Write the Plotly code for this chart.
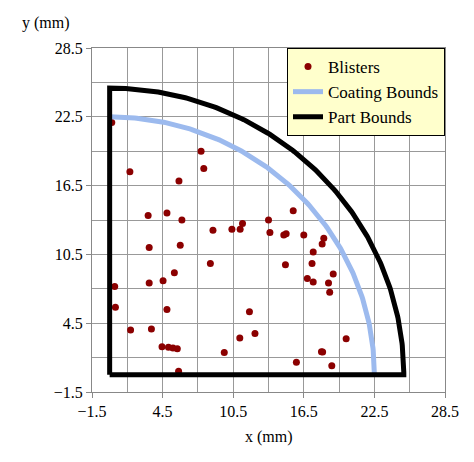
import numpy as np
import plotly.graph_objects as go

# blister locations (mm)
blister_x = [0.18, 1.72, 3.27, 4.87, 5.89, 6.14, 7.77, 8.0, 3.36, 6.0, 8.78, 8.56,
             10.39, 11.09, 11.29, 13.5, 13.62, 14.8, 15.0, 15.6, 16.5, 14.94, 18.2,
             18.06, 17.3, 17.2, 19.0, 16.8, 17.3, 18.6, 18.7, 5.5, 3.36, 4.54, 0.43,
             0.49, 4.87, 1.78, 3.55, 4.45, 5.0, 5.38, 5.75, 5.86, 9.74, 11.06, 11.88,
             12.35, 15.87, 18.0, 18.1, 18.88, 20.1]
blister_y = [22.0, 17.7, 13.9, 14.1, 16.9, 13.5, 19.5, 18.0, 11.1, 11.3, 12.6, 9.7,
             12.7, 12.7, 13.2, 13.5, 12.4, 12.2, 12.3, 14.3, 12.2, 9.6, 11.9,
             11.4, 10.7, 9.7, 8.8, 8.4, 8.1, 8.0, 7.2, 8.9, 8.0, 8.2, 7.7,
             5.9, 5.7, 3.9, 4.0, 2.45, 2.4, 2.33, 2.27, 0.3, 1.95, 3.2, 5.5,
             3.6, 1.1, 2.0, 1.98, 0.8, 3.15]

coating_r = 22.5
part_r = 25.0
tick_vals = [-1.5, 4.5, 10.5, 16.5, 22.5, 28.5]

theta = np.linspace(0, np.pi / 2, 200)
coat_x = coating_r * np.cos(theta)
coat_y = coating_r * np.sin(theta)
part_x = np.concatenate([[0], part_r * np.cos(theta), [0]])
part_y = np.concatenate([[0], part_r * np.sin(theta), [0]])

fig = go.Figure()
fig.add_trace(go.Scatter(x=blister_x, y=blister_y, mode='markers', name='Blisters',
                         marker=dict(color='#8B0000', size=7)))
fig.add_trace(go.Scatter(x=coat_x, y=coat_y, mode='lines', name='Coating Bounds',
                         line=dict(color='#9CBAEE', width=5)))
fig.add_trace(go.Scatter(x=part_x, y=part_y, mode='lines', name='Part Bounds',
                         line=dict(color='black', width=5)))

axis_style = dict(range=[-1.5, 28.5], tickvals=tick_vals, automargin=False,
                  showgrid=True, gridcolor='#999999', gridwidth=1,
                  zeroline=False, showline=True, linecolor='#888888', mirror=True,
                  ticks='outside', tickcolor='#888888', ticklen=5,
                  tickfont=dict(size=16, color='black'))
fig.update_xaxes(**axis_style)
fig.update_yaxes(**axis_style)
# minor grid every 3 mm
fig.update_xaxes(minor=dict(tick0=-1.5, dtick=3, showgrid=True, gridcolor='#999999'))
fig.update_yaxes(minor=dict(tick0=-1.5, dtick=3, showgrid=True, gridcolor='#999999'))

fig.update_layout(
    width=474, height=462,
    margin=dict(l=84, r=37, t=40, b=78),
    plot_bgcolor='white', paper_bgcolor='white',
    font=dict(family='Liberation Serif', size=16, color='black'),
    legend=dict(x=1, y=1, xanchor='right', yanchor='top', bgcolor='#FFFFCC',
                bordercolor='black', borderwidth=1, font=dict(size=17),
                itemwidth=30, tracegroupgap=0),
    showlegend=True,
    annotations=[
        dict(text='y (mm)', x=-0.13, y=1.04, xref='paper', yref='paper',
             xanchor='center', yanchor='bottom', showarrow=False, font=dict(size=16)),
        dict(text='x (mm)', x=0.5, y=-0.1, xref='paper', yref='paper',
             xanchor='center', yanchor='top', showarrow=False, font=dict(size=16)),
    ],
)

fig.write_html("out.html")
